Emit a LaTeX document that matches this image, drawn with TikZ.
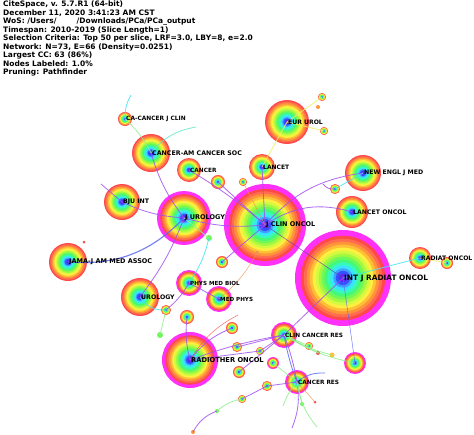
\documentclass[tikz,border=0pt]{standalone}
\usepackage{fontspec}
\setmainfont{DejaVu Sans}
\definecolor{cmag}{HTML}{FF30F8}
\definecolor{ry1}{HTML}{FF4848}
\definecolor{ry2}{HTML}{FF6C50}
\definecolor{ry3}{HTML}{FF9438}
\definecolor{ry4}{HTML}{FFC038}
\definecolor{ry5}{HTML}{FFF040}
\definecolor{ry6}{HTML}{D4FA40}
\definecolor{ry7}{HTML}{A4F840}
\definecolor{ry8}{HTML}{70F858}
\definecolor{ry9}{HTML}{44F878}
\definecolor{ry10}{HTML}{38F8BC}
\definecolor{ry11}{HTML}{38E4FF}
\definecolor{ry12}{HTML}{40A0FF}
\definecolor{ry13}{HTML}{3450FF}
\definecolor{ry14}{HTML}{6424F0}
\definecolor{lpur}{HTML}{A050F0}
\definecolor{lblu}{HTML}{5868F8}
\definecolor{lcya}{HTML}{40E4F0}
\definecolor{lgrn}{HTML}{90F090}
\definecolor{lyel}{HTML}{F0F060}
\definecolor{lora}{HTML}{F09450}
\definecolor{lred}{HTML}{F05050}
\newcommand{\yearrings}[2]{%
  \foreach \c/\f in {ry1/1.00,ry2/0.93,ry3/0.86,ry4/0.79,ry5/0.72,ry6/0.65,ry7/0.58,
                     ry8/0.51,ry9/0.44,ry10/0.37,ry11/0.30,ry12/0.23,ry13/0.17,ry14/0.10}
    {\fill[\c] (#1) circle ({#2*\f*1pt});}%
}
% citation node: name, position, radius
\newcommand{\citenode}[3]{\coordinate (#1) at (#2); \yearrings{#2}{#3}}
% same with centrality ring
\newcommand{\hubnode}[3]{\coordinate (#1) at (#2);
  \fill[cmag] (#2) circle ({#3*1pt}); \yearrings{#2}{0.88*#3}}
\newcommand{\dotnode}[4]{\coordinate (#1) at (#2); \fill[#4] (#2) circle ({#3*1pt});}
\tikzset{
  lnk/.style={line width=0.8pt, opacity=0.85},
  lbl/.style={anchor=west, xshift=1pt, inner sep=0pt, font=\bfseries\fontsize{#1}{#1}\selectfont},
  hdr/.style={anchor=north west, align=left, inner sep=0pt, font=\bfseries\fontsize{7.5}{8.5}\selectfont}
}
\begin{document}
\begin{tikzpicture}[x=1pt,y=-1pt]
\path[use as bounding box, fill=white] (0,0) rectangle (474,434);

\node[hdr] (hdr) at (3,1) {CiteSpace, v. 5.7.R1 (64-bit)\\
  December 11, 2020 3:41:23 AM CST\\
  WoS: /Users/\hspace{20pt}/Downloads/PCa/PCa\_output\\
  Timespan: 2010-2019 (Slice Length=1)\\
  Selection Criteria: Top 50 per slice, LRF=3.0, LBY=8, e=2.0\\
  Network: N=73, E=66 (Density=0.0251)\\
  Largest CC: 63 (86\%)\\
  Nodes Labeled: 1.0\%\\
  Pruning: Pathfinder};

% big nodes
\hubnode{intj}{343,278}{48}
\hubnode{jco}{265,225}{41}
\hubnode{juro}{184,218}{27}
\hubnode{rto}{190,360}{28}
\citenode{eur}{287,122}{22}
\citenode{cacs}{151,153}{19}
\citenode{ca}{125,119}{7}
\citenode{cancer}{189,170}{12}
\citenode{lancet}{262,167}{13}
\citenode{nejm}{363,173}{18}
\citenode{lonc}{352,212}{16}
\citenode{bju}{122,202}{18}
\citenode{jama}{68,262}{19}
\citenode{uro}{140,297}{19}
\hubnode{pmb}{189,283}{13}
\hubnode{mph}{219,299}{13}
\citenode{rad}{420,258}{11}
\hubnode{ccr}{284,335}{13}
\hubnode{cres}{297,382}{12}
\hubnode{n1}{355,363}{11}

% small nodes
\citenode{s1}{218,182}{7}
\citenode{s2}{243,182}{4}
\citenode{s3}{322,97}{4}
\dotnode{s4}{318,107}{2}{ry3}
\citenode{s5}{324,131}{4}
\citenode{s6}{335,189}{5}
\citenode{s7}{447,263}{6}
\citenode{s8}{222,262}{6}
\dotnode{s9}{209,238}{3}{ry8}
\dotnode{s10}{257,253}{2}{lora}
\dotnode{s11}{84,242}{1.5}{lred}
\citenode{s12}{166,310}{5}
\citenode{s13}{187,317}{7}
\citenode{s14}{232,328}{6}
\dotnode{s15}{160,335}{3}{ry8}
\citenode{s16}{237,347}{5}
\citenode{s17}{260,351}{4}
\hubnode{s18}{273,363}{6}
\citenode{s19}{239,372}{6}
\citenode{s20}{267,386}{5}
\citenode{s21}{242,399}{4}
\dotnode{s22}{217,411}{2}{ry8}
\dotnode{s23}{193,432}{2}{ry3}
\citenode{s24}{309,346}{4}
\dotnode{s25}{318,353}{2}{lred}
\dotnode{s26}{332,355}{2.5}{ry4}
\dotnode{s27}{302,404}{2}{ry8}
\dotnode{s28}{315,402}{1.5}{lred}

% free ends
\coordinate (caup) at (131,95);
\coordinate (socup) at (196,127);
\coordinate (bjul) at (101,184);
\coordinate (nejmst) at (323,184);
\coordinate (rtred) at (238,315);
\coordinate (crdn1) at (292,428);
\coordinate (crdn2) at (317,427);
\coordinate (crup) at (325,373);
\coordinate (crdl) at (283,406);

% links
\draw[lnk,lcya] (ca) to[bend left=15] (caup);
\draw[lnk,lgrn] (ca) to[bend left=10] (cacs);
\draw[lnk,lcya!60!lgrn] (cacs) to[bend left=20] (socup);
\draw[lnk,lpur] (bju) -- (bjul);
\draw[lnk,lpur] (cacs) to[bend right=10] (juro);
\draw[lnk,lpur] (bju) to[bend right=10] (juro);
\draw[lnk,lblu,line width=1.1pt] (jama) to[bend right=25] (juro);
\draw[lnk,lpur] (uro) to[bend right=8] (juro);
\draw[lnk,lpur] (juro) to[bend right=10] (jco);
\draw[lnk,lpur] (cancer) to[bend left=5] (jco);
\draw[lnk,lpur] (s1) -- (jco);
\draw[lnk,lora,line width=0.5pt] (s2) -- (jco);
\draw[lnk,lpur] (lancet) -- (jco);
\draw[lnk,lyel] (eur) -- (lancet);
\draw[lnk,lyel] (eur) -- (s3);
\draw[lnk,lyel] (eur) -- (s5);
\draw[lnk,lpur] (jco) to[bend left=20] (nejm);
\draw[lnk,lpur] (jco) to[bend left=25] (lonc);
\draw[lnk,lcya] (s6) -- (nejm);
\draw[lnk,lpur] (nejmst) to[bend right=30] (s6);
\draw[lnk,lcya] (intj) -- (rad);
\draw[lnk,lyel] (rad) -- (s7);
\draw[lnk,lpur!70!black,line width=0.5pt] (jco) -- (intj);
\draw[lnk,lpur] (intj) -- (ccr);
\draw[lnk,lblu,line width=0.5pt] (intj) -- (n1);
\draw[lnk,lpur] (s8) -- (jco);
\draw[lnk,lora,line width=0.5pt] (mph) to[bend right=10] (s10);
\draw[lnk,lgrn] (juro) -- (s9);
\draw[lnk,lcya] (s9) to[bend left=10] (pmb);
\draw[lnk,lpur] (pmb) -- (mph);
\draw[lnk,lpur] (pmb) to[bend left=10] (s12);
\draw[lnk,lcya] (uro) to[bend right=30] (s12);
\draw[lnk,lgrn] (s12) -- (s15);
\draw[lnk,lpur] (rto) to[bend left=10] (s13);
\draw[lnk,lpur] (rto) to[bend left=15] (s14);
\draw[lnk,lred,line width=0.5pt] (rto) to[bend left=15] (rtred);
\draw[lnk,lpur] (rto) -- (s17);
\draw[lnk,lpur] (s17) -- (ccr);
\draw[lnk,lpur] (s16) -- (ccr);
\draw[lnk,lpur] (s19) -- (ccr);
\draw[lnk,lpur] (rto) to[bend left=5] (ccr);
\draw[lnk,lblu] (ccr) to[bend right=5] (cres);
\draw[lnk,lpur] (ccr) to[bend left=5] (cres);
\draw[lnk,lgrn] (ccr) -- (s24);
\draw[lnk,lgrn] (ccr) -- (s25);
\draw[lnk,lgrn] (ccr) to[bend right=8] (s26);
\draw[lnk,lgrn] (ccr) to[bend right=10] (n1);
\draw[lnk,lgrn] (cres) -- (s18);
\draw[lnk,lgrn] (cres) -- (s27);
\draw[lnk,lora,line width=0.5pt] (cres) -- (s28);
\draw[lnk,lpur] (cres) to[bend left=15] (crdn1);
\draw[lnk,lgrn] (cres) to[bend right=15] (crdn2);
\draw[lnk,lblu] (cres) to[bend left=20] (crup);
\draw[lnk,lgrn] (cres) to[bend right=10] (crdl);
\draw[lnk,lpur] (s20) -- (cres);
\draw[lnk,lpur] (s20) -- (s21);
\draw[lnk,lgrn] (s21) to[bend right=15] (s22);
\draw[lnk,lpur] (s22) to[bend right=20] (s23);

% labels
\node[lbl=7.4] (intj-t) at (intj) {INT J RADIAT ONCOL};
\node[lbl=6.5] (jco-t) at (jco) {J CLIN ONCOL};
\node[lbl=6.5] (juro-t) at (juro) {J UROLOGY};
\node[lbl=6.7] (rto-t) at (rto) {RADIOTHER ONCOL};
\node[lbl=6.1] (eur-t) at (eur) {EUR UROL};
\node[lbl=6.3] (cacs-t) at (cacs) {CANCER-AM CANCER SOC};
\node[lbl=5.9] (ca-t) at (ca) {CA-CANCER J CLIN};
\node[lbl=5.8] (cancer-t) at (cancer) {CANCER};
\node[lbl=6.0] (lancet-t) at (lancet) {LANCET};
\node[lbl=6.2] (nejm-t) at (nejm) {NEW ENGL J MED};
\node[lbl=6.2] (lonc-t) at (lonc) {LANCET ONCOL};
\node[lbl=6.2] (bju-t) at (bju) {BJU INT};
\node[lbl=6.5] (jama-t) at (jama) {JAMA-J AM MED ASSOC};
\node[lbl=6.2] (uro-t) at (uro) {UROLOGY};
\node[lbl=5.6] (pmb-t) at (pmb) {PHYS MED BIOL};
\node[lbl=5.6] (mph-t) at (mph) {MED PHYS};
\node[lbl=6.1] (rad-t) at (rad) {RADIAT ONCOL};
\node[lbl=5.8] (ccr-t) at (ccr) {CLIN CANCER RES};
\node[lbl=5.8] (cres-t) at (cres) {CANCER RES};
\end{tikzpicture}
\end{document}
